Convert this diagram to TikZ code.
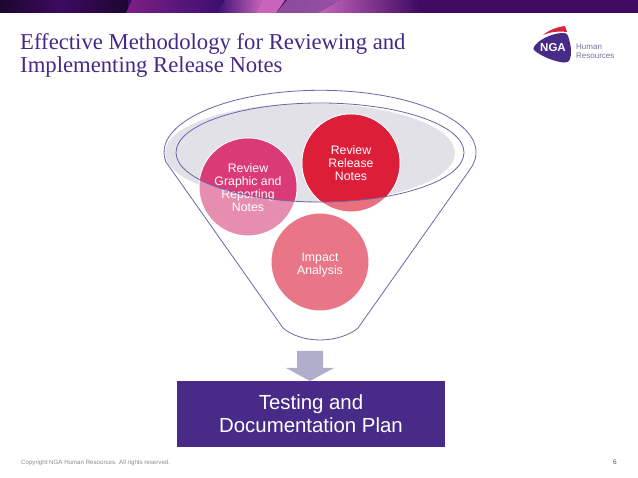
\documentclass[tikz,border=0pt]{standalone}
\usepackage{fontspec}
\setmainfont{Liberation Sans}
\newfontfamily\titlefont{Liberation Serif}
\definecolor{bandbase}{HTML}{3E0A62}
\definecolor{banddark}{HTML}{1C0530}
\definecolor{bandmag}{HTML}{7E1F84}
\definecolor{bandblue}{HTML}{3A0E70}
\definecolor{bandpink}{HTML}{C864BC}
\definecolor{bandmid}{HTML}{8A4A9C}
\definecolor{funnelline}{HTML}{6C64A6}
\definecolor{funnelgrey}{HTML}{E2E1E8}
\definecolor{titlepurple}{HTML}{432A86}
\definecolor{planpurple}{HTML}{482A88}
\definecolor{arrowgrey}{HTML}{B1AECB}
\definecolor{relDark}{HTML}{DC1E39}
\definecolor{relLight}{HTML}{E8707F}
\definecolor{graDark}{HTML}{DA3A76}
\definecolor{graLight}{HTML}{E68DB0}
\definecolor{impact}{HTML}{E87686}
\definecolor{footgrey}{HTML}{8A8A8A}
\definecolor{logored}{HTML}{D8263F}
\definecolor{logotextc}{HTML}{77709F}
\tikzset{
  x=1pt,y=-1pt,
  funnelstroke/.style={draw=funnelline,line width=0.8pt},
  stepcircle/.style={circle,draw=white,line width=1pt,minimum size=98pt,inner sep=0pt},
  steptext/.style={text=white,font=\fontsize{12.3}{13}\selectfont,align=center,inner sep=0pt},
  titletext/.style={anchor=base west,inner sep=0pt,text=titlepurple,font=\titlefont\fontsize{22.7}{23}\selectfont},
}
\begin{document}
\begin{tikzpicture}
\useasboundingbox (0,0) rectangle (638,478);
% top band
\fill[bandbase] (0,0) rectangle (638,13);
\shade[left color=banddark,right color=bandbase] (0,0) rectangle (60,13);
\shade[left color=bandbase,right color=banddark] (60,0) rectangle (128,13);
\shade[left color=bandmag,right color=bandblue] (126,13) -- (132,0) -- (225,0) -- (216,13) -- cycle;
\shade[left color=bandblue,right color=bandpink] (216,13) -- (225,0) -- (262,0) -- (256,13) -- cycle;
\fill[bandpink] (256,13) -- (262,0) -- (285,0) -- (276,13) -- cycle;
\shade[left color=bandmid,right color=bandmid!80!bandpink] (276,13) -- (287,0) -- (340,0) -- (318,13) -- cycle;
\shade[left color=bandpink,right color=bandbase] (318,13) -- (340,0) -- (420,0) -- (420,13) -- cycle;
% title
\node[titletext] (title1) at (20,50) {Effective Methodology for Reviewing and};
\node[titletext] (title2) at (20,73) {Implementing Release Notes};
% logo
\fill[logored] (543,35) .. controls (549,30) and (557,27) .. (565,26) .. controls (566,28) and (566,30) .. (567,32) .. controls (558,31) and (550,32) .. (543,35) -- cycle;
\fill[planpurple] (534,47) .. controls (536,42) and (550,33) .. (563,33) .. controls (567,33) and (568,35) .. (569,39)
  .. controls (571,45) and (572,54) .. (570,59) .. controls (569,63) and (564,63) .. (560,62)
  .. controls (550,60) and (540,55) .. (535,51) .. controls (533,50) and (533,48) .. (534,47) -- cycle;
\node[text=white,font=\bfseries\fontsize{11.5}{12}\selectfont,inner sep=0pt] (logoNGA) at (553,47.5) {NGA};
\node[anchor=west,inner sep=0pt,text=logotextc,align=left,font=\fontsize{8}{9}\selectfont] (logotext) at (576,51.5) {Human\\Resources};
% funnel fill
\fill[funnelgrey] (310,153) ellipse [x radius=145,y radius=49.5];
% circles, lighter parts
\node[stepcircle,fill=impact] (impactC) at (320,262) {};
\node[stepcircle,fill=graLight] (graphicC) at (248,187) {};
\node[stepcircle,fill=relLight] (releaseC) at (351,163) {};
% parts inside the rim
\begin{scope}
\clip (320,152.5) ellipse [x radius=144,y radius=49.5];
\fill[graDark] (248,187) circle (48.5);
\fill[relDark] (351,163) circle (48.5);
\end{scope}
% labels
\node[steptext] (releaseT) at (351,163.5) {Review\\Release\\Notes};
\node[steptext] (graphicT) at (248,187.5) {Review\\Graphic and\\Reporting\\Notes};
\node[steptext] (impactT) at (320,265.5) {Impact\\Analysis};
% funnel lines
\draw[funnelstroke] (320,152.5) ellipse [x radius=144,y radius=49.5];
\draw[funnelstroke] (166,162) arc [start angle=171,end angle=376,x radius=156,y radius=62]
  -- (358,328) .. controls (350,335) and (335,340) .. (320,340)
  .. controls (305,340) and (291,335) .. (283,328) -- cycle;
% arrow
\fill[arrowgrey] (297,351) -- (323,351) -- (323,368) -- (334,368) -- (310,381) -- (286,368) -- (297,368) -- cycle;
% plan box
\node[fill=planpurple,draw=none,minimum width=268pt,minimum height=66pt,inner sep=0pt,text=white,align=center,font=\fontsize{20.4}{23}\selectfont] (plan) at (311,414) {Testing and\\Documentation Plan};
% footer
\node[anchor=base west,inner sep=0pt,text=footgrey,font=\fontsize{6.15}{7}\selectfont] (copy) at (21,465) {Copyright NGA Human Resources. All rights reserved.};
\node[anchor=base east,inner sep=0pt,text=black!70,font=\fontsize{6.6}{7}\selectfont] (pagenum) at (617,465) {6};
\end{tikzpicture}
\end{document}
